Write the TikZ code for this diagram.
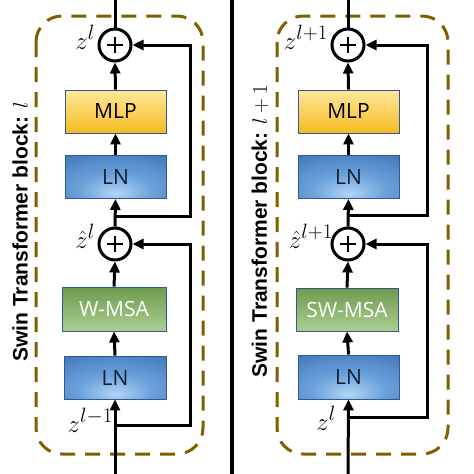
\documentclass[tikz,border=0pt]{standalone}
\usepackage{graphicx}
\usepackage{fontspec}
\setmainfont{Liberation Sans}
\newfontfamily\boxfont{Open Sans}
\usetikzlibrary{arrows.meta}
\definecolor{dashcol}{HTML}{7F6000}
\definecolor{boxborder}{HTML}{34598F}
\definecolor{mlptop}{HTML}{FFE89A}
\definecolor{mlpmid}{HTML}{FFEDB4}
\definecolor{mlpbot}{HTML}{F5BC22}
\definecolor{lnin}{HTML}{B2D5F4}
\definecolor{lnmid}{HTML}{6CA3DC}
\definecolor{lnout}{HTML}{3D74BA}
\definecolor{lnedge}{HTML}{2A5FA2}
\definecolor{lntext}{HTML}{141C2C}
\definecolor{msatop}{HTML}{6E9B4F}
\definecolor{msabot}{HTML}{AACF8F}
\pgfdeclareradialshading{lnshade}{\pgfpoint{0bp}{-20bp}}{color(0bp)=(lnin); color(18bp)=(lnmid); color(45bp)=(lnout); color(80bp)=(lnedge)}
\begin{document}
\begin{tikzpicture}[x=1pt,y=-1pt,
  wire/.style={line width=3pt},
  conn/.style={line width=3pt,-{Triangle[length=11pt,width=10pt]}},
  sumnode/.style={circle,draw,line width=3pt,minimum size=32pt,inner sep=0pt,
    path picture={\draw[line width=2.6pt]
      ([xshift=-8pt]path picture bounding box.center) -- ([xshift=8pt]path picture bounding box.center)
      ([yshift=-8pt]path picture bounding box.center) -- ([yshift=8pt]path picture bounding box.center);}},
  blk/.style={draw=boxborder,line width=0.9pt,minimum width=101pt,minimum height=43pt,inner sep=0pt,
    font=\boxfont\fontsize{21}{21}\selectfont},
  mlpbox/.style={blk,top color=mlptop,middle color=mlpmid,bottom color=mlpbot,text=black},
  lnbox/.style={blk,shade,shading=lnshade,text=lntext},
  msabox/.style={blk,top color=msatop,bottom color=msabot,text=white},
  dashbox/.style={draw=dashcol,line width=3pt,dash pattern=on 15pt off 10pt,rounded corners=26pt},
  mlabel/.style={anchor=base east,inner sep=0pt,font=\fontsize{24.88}{25}\selectfont},
  sidelabel/.style={rotate=90,inner sep=0pt,font=\bfseries\fontsize{21}{21}\selectfont}
]
\fill[white] (0,0) rectangle (474,474);
\useasboundingbox (0,0) rectangle (474,474);

% separator
\coordinate (sepT) at (232,0);
\coordinate (sepB) at (232,474);
\draw[line width=3.5pt] (sepT) -- (sepB);

% dashed frames
\draw[dashbox] (36,16) rectangle (203,454);
\draw[dashbox] (277,16) rectangle (448,454);

% ---------- left block ----------
\node[sumnode] (s1) at (115,45) {};
\node[mlpbox] (mlp1) at (115.5,111.5) {MLP};
\node[lnbox] (lna1) at (115.5,177) {LN};
\node[sumnode] (s2) at (115,244) {};
\node[msabox,minimum width=104pt,minimum height=44pt] (msa1) at (114,309) {W-MSA};
\node[lnbox,minimum width=102pt] (lnb1) at (115,377.5) {LN};

\coordinate (top1) at (115,0);
\coordinate (bot1) at (115,474);
\coordinate (j1) at (115,216);
\coordinate (f1) at (190,45);
\coordinate (j2) at (115,425);
\coordinate (f2) at (190,244);

\draw[wire] (s1.north) -- (top1);
\draw[conn] (mlp1.north) -- (s1.south);
\draw[conn] (lna1.north) -- (mlp1.south);
\draw[conn] (s2.north) -- (lna1.south);
\draw[conn] (msa1.north) -- (s2.south);
\draw[conn] (lnb1.north) -- (msa1.south);
\draw[conn] (bot1) -- (lnb1.south);
\draw[conn] (j1) -| (f1) -- (s1.east);
\draw[conn] (j2) -| (f2) -- (s2.east);

\node[mlabel] (lz1) at (95,49) {$z^{l}$};
\node[mlabel] (lhz1) at (95,248) {$\hat{z}^{l}$};
\node[mlabel] (lzm1) at (113,432) {$z^{l-1}$};

\node[sidelabel] (side1) at (20,232) {Swin Transformer block: $l$};

% ---------- right block ----------
\node[sumnode] (s3) at (348,45) {};
\node[mlpbox] (mlp2) at (348.5,111.5) {MLP};
\node[lnbox] (lna2) at (348.5,177) {LN};
\node[sumnode] (s4) at (348,244) {};
\node[msabox,minimum width=102pt] (msa2) at (347,309.5) {SW-MSA};
\node[lnbox,minimum height=44pt] (lnb2) at (348.5,377) {LN};

\coordinate (top2) at (348,0);
\coordinate (bot2) at (348,474);
\coordinate (j3) at (348,215);
\coordinate (f3) at (427,45);
\coordinate (j4) at (348,417);
\coordinate (f4) at (427,244);

\draw[wire] (s3.north) -- (top2);
\draw[conn] (mlp2.north) -- (s3.south);
\draw[conn] (lna2.north) -- (mlp2.south);
\draw[conn] (s4.north) -- (lna2.south);
\draw[conn] (msa2.north) -- (s4.south);
\draw[conn] (lnb2.north) -- (msa2.south);
\draw[conn] (bot2) -- (lnb2.south);
\draw[conn] (j3) -| (f3) -- (s3.east);
\draw[conn] (j4) -| (f4) -- (s4.east);

\node[mlabel] (lz2) at (328,49) {$z^{l+1}$};
\node[mlabel] (lhz2) at (333,248) {$\hat{z}^{l+1}$};
\node[mlabel] (lzl2) at (336,430) {$z^{l}$};

\node[sidelabel] (side2) at (260,231) {Swin Transformer block: $l+1$};
\end{tikzpicture}
\end{document}
